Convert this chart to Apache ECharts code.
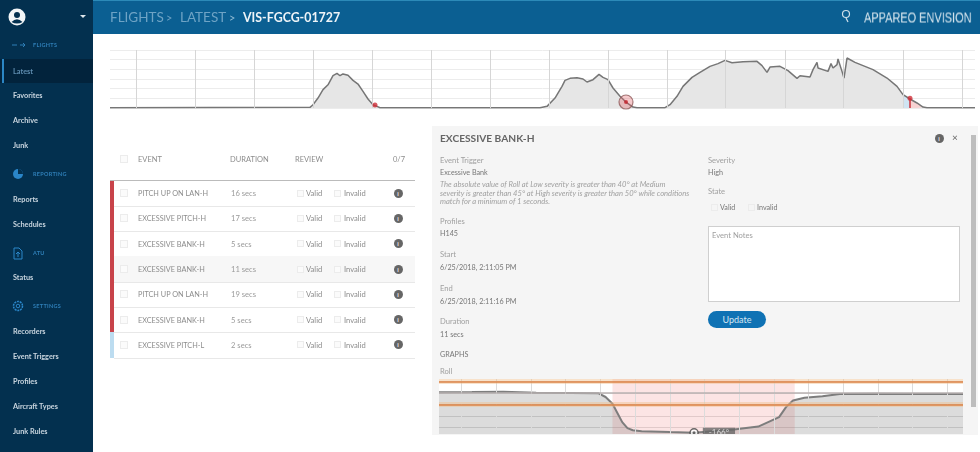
<!DOCTYPE html>
<html>
<head>
<meta charset="utf-8">
<title>VIS-FGCG-01727</title>
<script src="https://cdn.jsdelivr.net/npm/echarts@6/dist/echarts.min.js"></script>
<style>
    html, body { margin: 0; padding: 0; background: #fff; }
    #page { position: relative; width: 980px; height: 452px; overflow: hidden; font-family: Lato, "Open Sans", sans-serif; color: #777; }
    #page div, #page span { position: absolute; }
    .t { white-space: nowrap; transform: translateY(-50%); will-change: transform; }
    .nav { color: #c9d5df; font-size: 7.3px; font-weight: 700; left: 13px; }
    .navHead { color: #2f7fb8; font-size: 5.5px; font-weight: 700; left: 33px; letter-spacing: .3px; }
    .cb { width: 7px; height: 7px; background: #fbfbfb; border: 1px solid #ececec; box-sizing: border-box; }
    .info { width: 9px; height: 9px; border-radius: 50%; background: #666; color: #eee; font-size: 6px; line-height: 9px; text-align: center; font-weight: 700; }
    .lab { color: #a0a0a0; font-size: 7.6px; }
    .val { color: #777; font-size: 7.2px; }
</style>
</head>
<body>
<div id="page">
    <div style="left:0;top:0;width:93px;height:452px;background:#03304f"></div>
    <div style="left:0;top:59px;width:93px;height:24px;background:#02233c"></div>
    <div style="left:2px;top:59px;width:2px;height:24px;background:#2b86c5"></div>
    <div style="left:93px;top:0;width:887px;height:34px;background:#0b5f92;border-top:1px solid #2c8ab8;box-sizing:border-box"></div>

    <svg style="position:absolute;left:8px;top:8px" width="18" height="18" viewBox="0 0 18 18">
        <circle cx="9" cy="9" r="8.5" fill="#f2f5f7"/>
        <circle cx="9" cy="7" r="3" fill="#03304f"/>
        <path d="M3.5 14 Q9 8.5 14.5 14 Q9 17 3.5 14 Z" fill="#03304f"/>
    </svg>
    <svg style="position:absolute;left:80px;top:15px" width="7" height="4"><path d="M0 0 H6 L3 3 Z" fill="#dfe6ec"/></svg>
    <svg style="position:absolute;left:12px;top:42px" width="14" height="6"><path d="M0 3 H5 M8 3 H13 M11 1 L13 3 L11 5" stroke="#2f7fb8" fill="none"/></svg>
    <svg style="position:absolute;left:12px;top:168px" width="12" height="12"><circle cx="6" cy="6" r="5" fill="#2a86c9"/><path d="M6 6 V1 A5 5 0 0 1 11 6 Z" fill="#03304f"/></svg>
    <svg style="position:absolute;left:13px;top:247px" width="10" height="13"><path d="M1 1 H6 L9 4 V12 H1 Z" fill="none" stroke="#2a86c9"/><path d="M5 10 V5 M3 7 L5 5 L7 7" stroke="#2a86c9" fill="none"/></svg>
    <svg style="position:absolute;left:12px;top:300px" width="12" height="12"><circle cx="6" cy="6" r="4.5" fill="none" stroke="#2a86c9" stroke-width="1.5" stroke-dasharray="2 .8"/><circle cx="6" cy="6" r="1.8" fill="none" stroke="#2a86c9"/></svg>
    <svg style="position:absolute;left:841px;top:9px" width="10" height="14"><circle cx="5" cy="5" r="3.5" fill="none" stroke="#cfe0ea" stroke-width="1.2"/><path d="M5 9 L7 13" stroke="#cfe0ea" stroke-width="1.2"/></svg>

    <div id="navBox"></div>
    <div class="t" style="left:110px;top:17px;font-size:13.5px;color:#6ea3c5">FLIGHTS</div>
    <div class="t" style="left:166px;top:17px;font-size:11px;color:#6ea3c5">&gt;</div>
    <div class="t" style="left:180px;top:17px;font-size:13.5px;color:#6ea3c5">LATEST</div>
    <div class="t" style="left:229px;top:17px;font-size:11px;color:#8fbad4">&gt;</div>
    <div class="t" style="left:243px;top:17px;font-size:12.4px;font-weight:700;color:#eef4f8">VIS-FGCG-01727</div>
    <div class="t" style="left:864px;top:17px;font-size:15px;color:#d9e7ef;font-family:'Liberation Sans',sans-serif;transform-origin:left center;transform:translateY(-50%) scaleX(.73)">APPAREO ENVISION</div>

    <div id="overview" style="left:100px;top:40px;width:880px;height:80px"></div>

    <div id="tableBox"></div>

    <div style="left:432px;top:126px;width:546px;height:309px;background:#f5f5f5"></div>
    <div style="left:971px;top:135px;width:5px;height:272px;background:#bdbdbd"></div>
    <div id="panelBox"></div>
    <div style="left:708px;top:226px;width:252px;height:76px;background:#fff;border:1px solid #cfcfcf;box-sizing:border-box"></div>
    <div class="t lab" style="left:712px;top:235px">Event Notes</div>
    <div style="left:708px;top:311px;width:58px;height:17px;border-radius:9px;background:#0f72b4;color:#d5e7f3;font-size:9px;line-height:17px;text-align:center">Update</div>
    <div style="left:439px;top:379px;width:524px;height:55px;overflow:hidden">
        <div id="roll" style="left:0;top:0;width:524px;height:60px"></div>
    </div>
</div>

<script>
    // overview: time (s) / altitude (grid units)
    const flightProfile = [
        [0, 0.3], [200, 0.7], [203, 3.4], [208, 10.3], [213, 19], [218, 24], [220, 26], [223, 33.4], [227, 35.9],
        [229, 35.2], [230, 33.4], [233, 35.2], [238, 33.8], [243, 28.6], [248, 24.8], [253, 17.2], [258, 9.3],
        [263, 3.4], [267, 1.7], [270, 0.3], [430, 0.3], [437, 1.7], [445, 10.3], [452, 22.4], [455, 28.6],
        [460, 30.7], [467, 31.4], [473, 30], [477, 26.9], [483, 29.3], [489, 34.8], [493, 31.7], [498, 29.3],
        [503, 20.7], [510, 12.1], [517, 5.2], [523, 1], [527, 0.3], [555, 0.3], [560, 3.4], [567, 12.1], [573, 22.4],
        [582, 31.7], [590, 36.9], [600, 43.1], [608, 45.9], [615, 49.3], [622, 46.9], [633, 47.9], [647, 48.3],
        [648, 50], [652, 43.8], [657, 36.9], [660, 42.4], [670, 43.1], [678, 38.6], [687, 30.7], [690, 33.4],
        [700, 32], [703, 39.7], [707, 47.2], [708, 41.4], [718, 37.9], [721, 45.9], [723, 41.4], [727, 44.8],
        [728, 50.7], [732, 37.9], [734, 31], [737, 51.7], [745, 47.2], [763, 39.7], [777, 31], [787, 22.4],
        [793, 13.8], [800, 9.3], [807, 5.2], [813, 1], [817, 0.3], [865, 0.3],
    ]
    const lowEventSpan = [[793, 13.8], [800, 9.3]]
    const highEventSpan = [[800, 9.3], [807, 5.2], [813, 1]]
    const eventDots = [[265, 3], [800, 10]]
    const selectedEvent = [[516, 6.2]]
    const eventStem = [[800, 0], [800, 10]]
    const overviewGridTimes = [26, 85, 144, 203, 262, 321, 380, 439, 498, 557, 615, 675, 733, 793, 852]

    // roll graph: time (s) / degrees
    const rollSeries = [
        [0, 2.2], [1.9, 3.6], [3.7, 5.1], [5.6, 0.7], [7.6, -0.7], [9.2, -2.2], [9.6, -18], [10, -47], [10.25, -83],
        [10.56, -127], [10.86, -153], [11.17, -162], [11.68, -166], [13.3, -170], [14.7, -173], [17, -159],
        [18.4, -146], [19.6, -105], [20, -62], [20.4, -33], [21.06, -21], [22.1, -15], [23.1, -5], [25.1, -3.6],
        [28, -5], [30.2, -5],
    ]
    const rollThresholds = [50, -50]
    const rollZeroLine = [0]
    const rollEventSpan = [10, 20.5]
    const rollCursor = [[14.7, -173]]
    const rollCursorLabel = "-166°"
    const rollGridTimes = [1.3, 3.3, 5.3, 7.3, 9.3, 11.3, 13.3, 15.3, 17.3, 19.3, 21.3, 23.3, 25.3, 27.3, 29.3]

    // table and text
    const eventNames = ["PITCH UP ON LAN-H", "EXCESSIVE PITCH-H", "EXCESSIVE BANK-H", "EXCESSIVE BANK-H", "PITCH UP ON LAN-H", "EXCESSIVE BANK-H", "EXCESSIVE PITCH-L"]
    const eventDurations = ["16 secs", "17 secs", "5 secs", "11 secs", "19 secs", "5 secs", "2 secs"]
    const tableColumns = ["EVENT", "DURATION", "REVIEW", "0/7"]
    const navLinks = ["Latest", "Favorites", "Archive", "Junk", "Reports", "Schedules", "Status", "Recorders", "Event Triggers", "Profiles", "Aircraft Types", "Junk Rules"]
    const navHeads = ["FLIGHTS", "REPORTING", "ATU", "SETTINGS"]
    const triggerNote = [
        "The absolute value of Roll at Low severity is greater than 40° at Medium",
        "severity is greater than 45° at High severity is greater than 50° while conditions",
        "match for a minimum of 1 seconds.",
    ]

    const put = (box, text, x, y, cls, css) => {
        box.insertAdjacentHTML("beforeend", `<div class="t ${cls || ""}" style="left:${x}px;top:${y}px;${css || ""}">${text}</div>`)
    }

    const navBox = document.querySelector("#navBox")
    const navLinkY = [71, 95, 120, 145, 199, 224, 277, 331, 356, 381, 406, 431]
    const navHeadY = [45, 174, 253, 306]
    navLinks.forEach((label, i) => put(navBox, label, 13, navLinkY[i], "nav", i === 0 ? "color:#5f8db0" : ""))
    navHeads.forEach((label, i) => put(navBox, label, 33, navHeadY[i], "navHead"))

    const tableBox = document.querySelector("#tableBox")
    const rowHeight = 25.3
    const firstRowTop = 180.5
    tableBox.insertAdjacentHTML("beforeend", `<div class="cb" style="left:120px;top:155px;width:8px;height:8px"></div>`)
    const headX = [138, 230, 295, 393]
    tableColumns.forEach((label, i) => put(tableBox, label, headX[i], 159, "", "font-size:7.5px;color:#8c8c8c"))
    tableBox.insertAdjacentHTML("beforeend", `<div style="left:110px;top:180px;width:305px;height:1px;background:#bbb"></div>`)
    eventNames.forEach((name, i) => {
        const top = firstRowTop + i * rowHeight
        const mid = top + rowHeight / 2
        if (i === 3) {
            tableBox.insertAdjacentHTML("beforeend", `<div style="left:114px;top:${top}px;width:301px;height:${rowHeight}px;background:#f7f7f7"></div>`)
        }
        const barColor = i === eventNames.length - 1 ? "#bcdcf0" : "#c8434a"
        tableBox.insertAdjacentHTML("beforeend", `
            <div style="left:110px;top:${top}px;width:4px;height:${rowHeight + 0.5}px;background:${barColor}"></div>
            <div style="left:114px;top:${top + rowHeight}px;width:301px;height:1px;background:#e8e8e8"></div>
            <div class="cb" style="left:120px;top:${mid - 4}px;width:8px;height:8px"></div>
            <div class="cb" style="left:297px;top:${mid - 3.5}px"></div>
            <div class="cb" style="left:334px;top:${mid - 3.5}px"></div>
            <div class="info" style="left:393.5px;top:${mid - 4.5}px">i</div>`)
        put(tableBox, name, 138, mid, "", "font-size:7.3px;color:#8c8c8c")
        put(tableBox, eventDurations[i], 231, mid, "", "font-size:7.6px;color:#9a9a9a")
        put(tableBox, "Valid", 306, mid, "", "font-size:7.6px;color:#8c8c8c")
        put(tableBox, "Invalid", 344, mid, "", "font-size:7.6px;color:#8c8c8c")
    })

    const panelBox = document.querySelector("#panelBox")
    put(panelBox, "EXCESSIVE BANK-H", 440, 138, "", "font-size:10.2px;font-weight:700;color:#666")
    put(panelBox, "Event Trigger", 440, 160, "lab")
    put(panelBox, "Excessive Bank", 440, 172, "val")
    triggerNote.forEach((line, i) => put(panelBox, line, 440, 184 + i * 8.5, "", "font-size:7.6px;font-style:italic;color:#a0a0a0"))
    put(panelBox, "Profiles", 440, 221, "lab")
    put(panelBox, "H145", 440, 233, "val")
    put(panelBox, "Start", 440, 254, "lab")
    put(panelBox, "6/25/2018, 2:11:05 PM", 440, 267, "val")
    put(panelBox, "End", 440, 288, "lab")
    put(panelBox, "6/25/2018, 2:11:16 PM", 440, 301, "val")
    put(panelBox, "Duration", 440, 321, "lab")
    put(panelBox, "11 secs", 440, 334, "val")
    put(panelBox, "GRAPHS", 440, 354, "val")
    put(panelBox, "Roll", 440, 371, "lab")
    put(panelBox, "Severity", 708, 160, "lab")
    put(panelBox, "High", 708, 172, "val")
    put(panelBox, "State", 708, 191, "lab")
    panelBox.insertAdjacentHTML("beforeend", `
        <div class="cb" style="left:711px;top:203.5px;background:#f5f5f5"></div>
        <div class="cb" style="left:748px;top:203.5px;background:#f5f5f5"></div>
        <div class="info" style="left:934.5px;top:133.5px">i</div>`)
    put(panelBox, "Valid", 720, 207, "val")
    put(panelBox, "Invalid", 757, 207, "val")
    put(panelBox, "×", 952, 137, "", "font-size:10px;color:#666")

    const verticalLines = (times, color) => ({
        silent: true,
        symbol: "none",
        label: { show: false },
        lineStyle: { color: color, width: 1, type: "solid" },
        data: times.map((t) => ({ xAxis: t })),
    })

    const horizontalLines = (values, color, width) => ({
        silent: true,
        symbol: "none",
        label: { show: false },
        lineStyle: { color: color, width: width, type: "solid" },
        data: values.map((v) => ({ yAxis: v })),
    })

    const overviewChart = echarts.init(document.querySelector("#overview"), null, { renderer: "canvas" })
    overviewChart.setOption({
        animation: false,
        grid: { left: 10, top: 10, width: 865, height: 58 },
        xAxis: { type: "value", min: 0, max: 865, show: false },
        yAxis: {
            type: "value",
            min: 0,
            max: 60,
            interval: 10,
            axisLine: { show: false },
            axisTick: { show: false },
            axisLabel: { show: false },
            splitLine: { lineStyle: { color: "#ececec" } },
        },
        series: [
            {
                name: "Altitude",
                type: "line",
                data: flightProfile,
                showSymbol: false,
                lineStyle: { color: "#767676", width: 1.5 },
                itemStyle: { color: "#767676" },
                areaStyle: { color: "#e6e6e6", opacity: 1 },
                markLine: verticalLines(overviewGridTimes, "#d6d6d6"),
            },
            { name: "Low", type: "line", data: lowEventSpan, showSymbol: false, lineStyle: { width: 0 }, areaStyle: { color: "#cfe4f2", opacity: 1 } },
            { name: "High", type: "line", data: highEventSpan, showSymbol: false, lineStyle: { width: 0 }, areaStyle: { color: "#f6d2d2", opacity: 1 } },
            { name: "Stem", type: "line", data: eventStem, showSymbol: false, lineStyle: { color: "#c9303a", width: 1.5 } },
            { name: "Events", type: "scatter", data: eventDots, symbolSize: 5, z: 5, itemStyle: { color: "#cf2e38" } },
            {
                name: "Selected",
                type: "scatter",
                data: selectedEvent,
                symbolSize: 14,
                z: 5,
                clip: false,
                itemStyle: { color: "rgba(226,90,96,.4)", borderColor: "#8f5a5a", borderWidth: 1.2 },
            },
            { name: "SelectedDot", type: "scatter", data: selectedEvent, symbolSize: 4, z: 6, clip: false, itemStyle: { color: "#c4202c" } },
        ],
    })

    const rollChart = echarts.init(document.querySelector("#roll"), null, { renderer: "canvas" })
    rollChart.setOption({
        animation: false,
        backgroundColor: "#fff",
        grid: { left: 0, right: 0, top: 0, bottom: 0 },
        xAxis: { type: "value", min: 0, max: 30.2, show: false },
        yAxis: {
            type: "value",
            min: -200,
            max: 60,
            interval: 50,
            axisLine: { show: false },
            axisTick: { show: false },
            axisLabel: { show: false },
            splitLine: { showMaxLine: false, lineStyle: { color: "#dedede" } },
        },
        series: [
            {
                name: "Roll",
                type: "line",
                data: rollSeries,
                showSymbol: false,
                z: 3,
                lineStyle: { color: "#7d7d7d", width: 2 },
                itemStyle: { color: "#7d7d7d" },
                areaStyle: { color: "rgba(80,80,80,.2)", opacity: 1, origin: "start" },
                markLine: verticalLines(rollGridTimes, "#dcdcdc"),
                markArea: {
                    silent: true,
                    itemStyle: { color: "rgba(240,120,120,.2)" },
                    data: [[{ xAxis: rollEventSpan[0] }, { xAxis: rollEventSpan[1] }]],
                },
            },
            { name: "Zero", type: "line", data: [], z: 2, markLine: horizontalLines(rollZeroLine, "#b9b2b2", 1.5) },
            { name: "ThresholdHalo", type: "line", data: [], z: 4, markLine: horizontalLines(rollThresholds, "rgba(240,190,140,.45)", 5) },
            { name: "Thresholds", type: "line", data: [], z: 4, markLine: horizontalLines(rollThresholds, "#dd8347", 1.5) },
            {
                name: "Cursor",
                type: "scatter",
                data: rollCursor,
                symbolSize: 8,
                z: 5,
                clip: false,
                itemStyle: { color: "#fff", borderColor: "#444", borderWidth: 1.5 },
                label: {
                    show: true,
                    position: "right",
                    distance: 4,
                    formatter: rollCursorLabel,
                    backgroundColor: "#666",
                    color: "#eee",
                    fontSize: 8,
                    fontFamily: "Lato",
                    padding: [1, 6],
                },
            },
            { name: "CursorDot", type: "scatter", data: rollCursor, symbolSize: 3, z: 6, clip: false, itemStyle: { color: "#444" } },
        ],
    })
</script>
</body>
</html>
